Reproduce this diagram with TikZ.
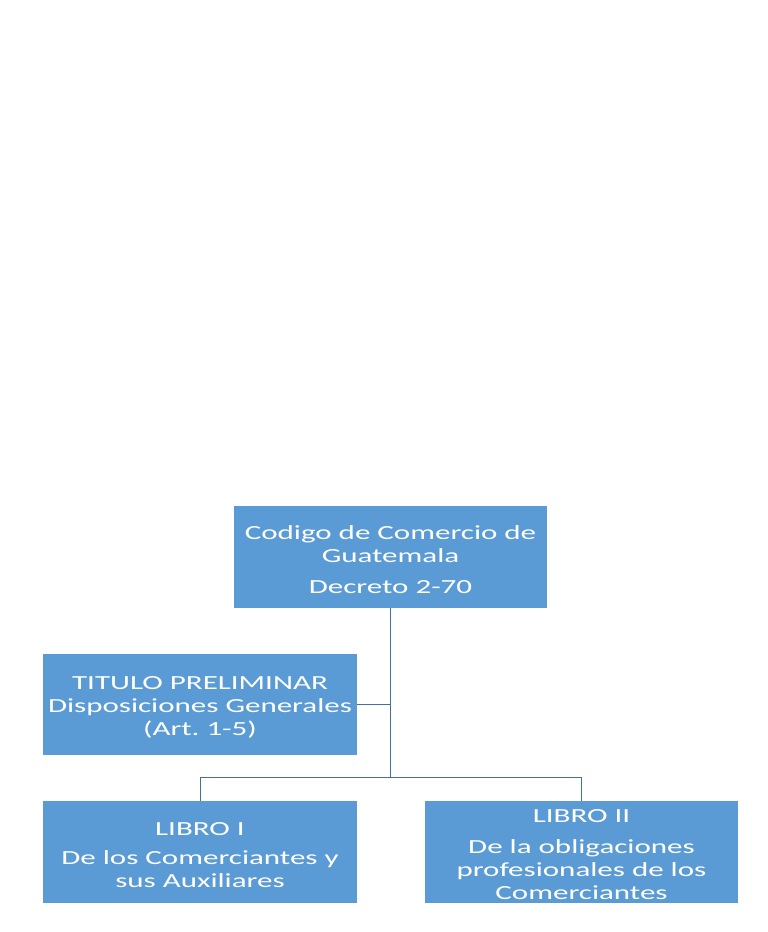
\documentclass[tikz,border=0pt]{standalone}
\usepackage{fontspec}
\setmainfont{Carlito}[FakeStretch=1.55]
\frenchspacing
\definecolor{boxfill}{HTML}{5B9BD5}
\definecolor{linecol}{HTML}{41719C}
\newcommand{\boxlines}[2][-4.5pt]{\raisebox{#1}[\height][\depth]{\begin{tabular}{@{}c@{}}#2\end{tabular}}}
\begin{document}
\begin{tikzpicture}[x=1pt,y=-1pt,
  orgbox/.style={fill=boxfill, draw=none, text=white,
    inner sep=0pt, font=\fontsize{20}{23}\selectfont},
  link/.style={draw=linecol, line width=1pt}]
\useasboundingbox (0,0) rectangle (768,932);
\node[orgbox, minimum width=313pt, minimum height=102pt] (top) at (390.5,557)
  {\boxlines[-5pt]{Codigo de Comercio de\\Guatemala\\[8pt]Decreto 2-70}};
\node[orgbox, minimum width=314pt, minimum height=101pt] (tit) at (200,704.5)
  {\boxlines[-3.5pt]{TITULO PRELIMINAR\\Disposiciones Generales\\(Art. 1-5)}};
\node[orgbox, minimum width=314pt, minimum height=102pt] (l1) at (200,852)
  {\boxlines{LIBRO I\\[6pt]De los Comerciantes y\\sus Auxiliares}};
\node[orgbox, minimum width=313pt, minimum height=102pt] (l2) at (581.5,852)
  {\boxlines{LIBRO II\\[8pt]De la obligaciones\\profesionales de los\\Comerciantes}};
\coordinate (j) at (390.5,777);
\draw[link] (top.south) -- (j);
\draw[link] (tit.east) -- (tit.east -| top.south);
\draw[link] (l1.north) |- (j) -| (l2.north);
\end{tikzpicture}
\end{document}
